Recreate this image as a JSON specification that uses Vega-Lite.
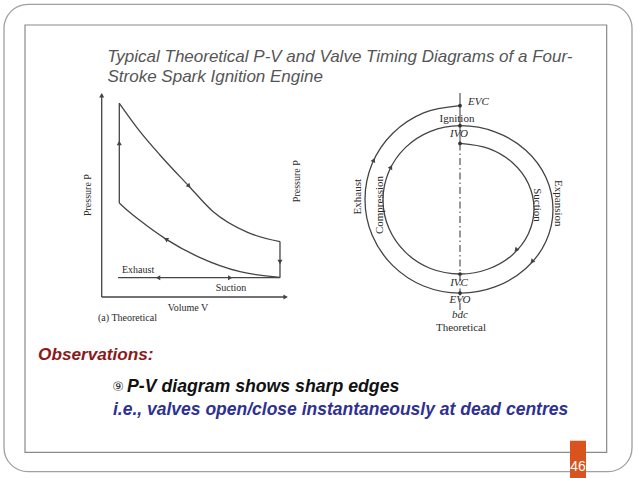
{
  "$schema": "https://vega.github.io/schema/vega-lite/v6.json",
  "width": 638,
  "height": 478,
  "autosize": {"type": "none"},
  "padding": 0,
  "background": "white",
  "config": {"view": {"stroke": null}},
  "resolve": {"scale": {"x": "independent", "y": "independent", "angle": "independent"}},
  "layer": [
    {
      "layer": [
        {
          "data": {"values": [{"frame": "outer"}]},
          "mark": {"type": "rect", "fill": "transparent", "stroke": "#a0a0a0", "strokeWidth": 1.3, "cornerRadius": 24},
          "encoding": {
            "x": {"datum": 0.63, "type": "quantitative", "scale": {"domain": [0, 100], "range": [0, 638], "zero": false, "nice": false}, "axis": null},
            "x2": {"datum": 99.06},
            "y": {"datum": 0.9, "type": "quantitative", "scale": {"domain": [0, 100], "range": [0, 478], "zero": false, "nice": false}, "axis": null},
            "y2": {"datum": 98.68}
          }
        },
        {
          "data": {"values": [{"frame": "inner"}]},
          "mark": {"type": "rect", "fill": "transparent", "stroke": "#8a8a8a", "strokeWidth": 1.2},
          "encoding": {
            "x": {"datum": 3.92, "type": "quantitative", "scale": {"domain": [0, 100], "range": [0, 638], "zero": false, "nice": false}, "axis": null},
            "x2": {"datum": 95.09},
            "y": {"datum": 5.23, "type": "quantitative", "scale": {"domain": [0, 100], "range": [0, 478], "zero": false, "nice": false}, "axis": null},
            "y2": {"datum": 94.62}
          }
        },
        {
          "data": {"values": [{"frame": "page tab"}]},
          "mark": {"type": "rect", "fill": "#d9531e", "stroke": null},
          "encoding": {
            "x": {"datum": 89.34, "type": "quantitative", "scale": {"domain": [0, 100], "range": [0, 638], "zero": false, "nice": false}, "axis": null},
            "x2": {"datum": 91.85},
            "y": {"datum": 92.2, "type": "quantitative", "scale": {"domain": [0, 100], "range": [0, 478], "zero": false, "nice": false}, "axis": null},
            "y2": {"datum": 100}
          }
        },
        {
          "data": {"values": [{"text": "46", "sx": 90.6, "sy": 97.6}]},
          "mark": {"type": "text", "font": "Liberation Sans", "fontSize": 14, "color": "white", "align": "center", "baseline": "middle"},
          "encoding": {
            "x": {"field": "sx", "type": "quantitative", "scale": {"domain": [0, 100], "range": [0, 638], "zero": false, "nice": false}, "axis": null},
            "y": {"field": "sy", "type": "quantitative", "scale": {"domain": [0, 100], "range": [0, 478], "zero": false, "nice": false}, "axis": null},
            "text": {"field": "text"}
          }
        },
        {
          "data": {"values": [
            {"text": "Typical Theoretical P-V and Valve Timing Diagrams of a Four-", "sx": 16.8, "sy": 12.97},
            {"text": "Stroke Spark Ignition Engine", "sx": 16.85, "sy": 17.09}
          ]},
          "mark": {"type": "text", "font": "Liberation Sans", "fontSize": 17, "fontStyle": "italic", "color": "#555555", "align": "left", "baseline": "alphabetic"},
          "encoding": {
            "x": {"field": "sx", "type": "quantitative", "scale": {"domain": [0, 100], "range": [0, 638], "zero": false, "nice": false}, "axis": null},
            "y": {"field": "sy", "type": "quantitative", "scale": {"domain": [0, 100], "range": [0, 478], "zero": false, "nice": false}, "axis": null},
            "text": {"field": "text"}
          }
        },
        {
          "data": {"values": [{"text": "Observations:", "sx": 5.96, "sy": 74.3}]},
          "mark": {"type": "text", "font": "Liberation Sans", "fontSize": 17.2, "fontStyle": "italic", "fontWeight": "bold", "color": "#8b1a1a", "align": "left", "baseline": "middle"},
          "encoding": {
            "x": {"field": "sx", "type": "quantitative", "scale": {"domain": [0, 100], "range": [0, 638], "zero": false, "nice": false}, "axis": null},
            "y": {"field": "sy", "type": "quantitative", "scale": {"domain": [0, 100], "range": [0, 478], "zero": false, "nice": false}, "axis": null},
            "text": {"field": "text"}
          }
        },
        {
          "data": {"values": [{"text": "⑨", "sx": 17.6, "sy": 80.96}]},
          "mark": {"type": "text", "font": "DejaVu Sans", "fontSize": 13, "color": "#333333", "align": "left", "baseline": "middle"},
          "encoding": {
            "x": {"field": "sx", "type": "quantitative", "scale": {"domain": [0, 100], "range": [0, 638], "zero": false, "nice": false}, "axis": null},
            "y": {"field": "sy", "type": "quantitative", "scale": {"domain": [0, 100], "range": [0, 478], "zero": false, "nice": false}, "axis": null},
            "text": {"field": "text"}
          }
        },
        {
          "data": {"values": [{"text": "P-V diagram shows sharp edges", "sx": 19.91, "sy": 80.96}]},
          "mark": {"type": "text", "font": "Liberation Sans", "fontSize": 17.7, "fontStyle": "italic", "fontWeight": "bold", "color": "#111111", "align": "left", "baseline": "middle"},
          "encoding": {
            "x": {"field": "sx", "type": "quantitative", "scale": {"domain": [0, 100], "range": [0, 638], "zero": false, "nice": false}, "axis": null},
            "y": {"field": "sy", "type": "quantitative", "scale": {"domain": [0, 100], "range": [0, 478], "zero": false, "nice": false}, "axis": null},
            "text": {"field": "text"}
          }
        },
        {
          "data": {"values": [{"text": "i.e., valves open/close instantaneously at dead centres", "sx": 17.71, "sy": 85.8}]},
          "mark": {"type": "text", "font": "Liberation Sans", "fontSize": 17.5, "fontStyle": "italic", "fontWeight": "bold", "color": "#2e3192", "align": "left", "baseline": "middle"},
          "encoding": {
            "x": {"field": "sx", "type": "quantitative", "scale": {"domain": [0, 100], "range": [0, 638], "zero": false, "nice": false}, "axis": null},
            "y": {"field": "sy", "type": "quantitative", "scale": {"domain": [0, 100], "range": [0, 478], "zero": false, "nice": false}, "axis": null},
            "text": {"field": "text"}
          }
        }
      ]
    },
    {
      "encoding": {
        "x": {"field": "V", "type": "quantitative", "scale": {"domain": [0, 10], "range": [101.7, 277.7], "zero": false, "nice": false}, "axis": null},
        "y": {"field": "P", "type": "quantitative", "scale": {"domain": [0, 10], "range": [297, 104], "zero": false, "nice": false}, "axis": null}
      },
      "layer": [
        {
          "data": {"values": [
            {"path": "P axis", "o": 0, "V": 0, "P": 0},
            {"path": "P axis", "o": 1, "V": 0, "P": 10.5},
            {"path": "V axis", "o": 0, "V": 0, "P": 0},
            {"path": "V axis", "o": 1, "V": 10.5, "P": 0},
            {"path": "heat addition", "o": 0, "V": 1.0, "P": 4.87},
            {"path": "heat addition", "o": 1, "V": 1.0, "P": 10.04},
            {"path": "blowdown", "o": 0, "V": 10.13, "P": 2.87},
            {"path": "blowdown", "o": 1, "V": 10.13, "P": 1.0},
            {"path": "exhaust/suction", "o": 0, "V": 0.93, "P": 1.0},
            {"path": "exhaust/suction", "o": 1, "V": 10.13, "P": 1.0}
          ]},
          "mark": {"type": "line", "color": "#444444", "strokeWidth": 1.3},
          "encoding": {"detail": {"field": "path"}, "order": {"field": "o"}}
        },
        {
          "data": {"values": [
            {"path": "expansion", "V": 1.0, "P": 10.04},
            {"path": "expansion", "V": 2.18, "P": 8.57},
            {"path": "expansion", "V": 3.31, "P": 7.36},
            {"path": "expansion", "V": 4.96, "P": 5.74},
            {"path": "expansion", "V": 6.32, "P": 4.43},
            {"path": "expansion", "V": 8.26, "P": 3.36},
            {"path": "expansion", "V": 10.13, "P": 2.87},
            {"path": "compression", "V": 1.0, "P": 4.87},
            {"path": "compression", "V": 1.32, "P": 4.6},
            {"path": "compression", "V": 2.18, "P": 3.96},
            {"path": "compression", "V": 3.65, "P": 3.0},
            {"path": "compression", "V": 5.59, "P": 2.04},
            {"path": "compression", "V": 7.86, "P": 1.31},
            {"path": "compression", "V": 10.13, "P": 1.02}
          ]},
          "mark": {"type": "line", "color": "#444444", "strokeWidth": 1.3, "interpolate": "monotone"},
          "encoding": {"detail": {"field": "path"}}
        },
        {
          "data": {"values": [
            {"V": 1.0, "P": 7.98, "dir": 0},
            {"V": 4.96, "P": 5.74, "dir": 138},
            {"V": 10.13, "P": 1.81, "dir": 180},
            {"V": 3.65, "P": 3.0, "dir": 300},
            {"V": 3.2, "P": 1.0, "dir": 270},
            {"V": 7.3, "P": 1.0, "dir": 90},
            {"V": 0, "P": 10.45, "dir": 0},
            {"V": 10.45, "P": 0, "dir": 90}
          ]},
          "mark": {"type": "point", "shape": "triangle-up", "filled": true, "color": "#444444", "size": 26, "opacity": 1},
          "encoding": {"angle": {"field": "dir", "type": "quantitative", "scale": {"domain": [0, 360], "range": [0, 360]}}}
        },
        {
          "data": {"values": [
            {"text": "Exhaust", "V": 1.15, "P": 1.4},
            {"text": "(a) Theoretical", "V": -0.21, "P": -1.09}
          ]},
          "mark": {"type": "text", "font": "Liberation Serif", "fontSize": 10, "color": "#2a2a2a", "align": "left", "baseline": "middle"},
          "encoding": {"text": {"field": "text"}}
        },
        {
          "data": {"values": [
            {"text": "Suction", "V": 7.35, "P": 0.47},
            {"text": "Volume V", "V": 4.9, "P": -0.57}
          ]},
          "mark": {"type": "text", "font": "Liberation Serif", "fontSize": 10, "color": "#2a2a2a", "align": "center", "baseline": "middle"},
          "encoding": {"text": {"field": "text"}}
        },
        {
          "data": {"values": [
            {"text": "Pressure P", "V": -0.78, "P": 5.28},
            {"text": "Pressure P", "V": 11.1, "P": 6.0}
          ]},
          "mark": {"type": "text", "font": "Liberation Serif", "fontSize": 10, "color": "#2a2a2a", "align": "center", "baseline": "middle", "angle": 270},
          "encoding": {"text": {"field": "text"}}
        }
      ]
    },
    {
      "encoding": {
        "x": {"field": "cx", "type": "quantitative", "scale": {"domain": [-100, 100], "range": [360, 560], "zero": false, "nice": false}, "axis": null},
        "y": {"field": "cy", "type": "quantitative", "scale": {"domain": [-100, 100], "range": [304, 104], "zero": false, "nice": false}, "axis": null}
      },
      "layer": [
        {
          "data": {"values": [
            {"stroke": "suction", "o": 1, "cx": 0, "cy": 60.6},
            {"stroke": "suction", "o": 2, "cx": 28.3, "cy": 55.6},
            {"stroke": "suction", "o": 3, "cx": 52.3, "cy": 41.5},
            {"stroke": "suction", "o": 4, "cx": 68.4, "cy": 20.3},
            {"stroke": "suction", "o": 5, "cx": 74, "cy": -4.7},
            {"stroke": "suction", "o": 6, "cx": 68.4, "cy": -29.7},
            {"stroke": "suction", "o": 7, "cx": 52.3, "cy": -50.9},
            {"stroke": "suction", "o": 8, "cx": 28.3, "cy": -65.0},
            {"stroke": "suction", "o": 9, "cx": 0, "cy": -70.0},
            {"stroke": "compression", "o": 10, "cx": -29.5, "cy": -64.5},
            {"stroke": "compression", "o": 11, "cx": -54.4, "cy": -48.4},
            {"stroke": "compression", "o": 12, "cx": -71.1, "cy": -24.3},
            {"stroke": "compression", "o": 13, "cx": -77, "cy": 4.1},
            {"stroke": "compression", "o": 14, "cx": -71.1, "cy": 32.5},
            {"stroke": "compression", "o": 15, "cx": -54.4, "cy": 56.6},
            {"stroke": "compression", "o": 16, "cx": -29.5, "cy": 72.7},
            {"stroke": "compression", "o": 17, "cx": 0, "cy": 78.3},
            {"stroke": "expansion", "o": 18, "cx": 35.6, "cy": 71.9},
            {"stroke": "expansion", "o": 19, "cx": 65.8, "cy": 53.8},
            {"stroke": "expansion", "o": 20, "cx": 85.9, "cy": 26.7},
            {"stroke": "expansion", "o": 21, "cx": 93, "cy": -5.4},
            {"stroke": "expansion", "o": 22, "cx": 85.9, "cy": -37.5},
            {"stroke": "expansion", "o": 23, "cx": 65.8, "cy": -64.6},
            {"stroke": "expansion", "o": 24, "cx": 35.6, "cy": -82.7},
            {"stroke": "expansion", "o": 25, "cx": 0, "cy": -89.1},
            {"stroke": "exhaust", "o": 26, "cx": -36.4, "cy": -82.0},
            {"stroke": "exhaust", "o": 27, "cx": -67.2, "cy": -61.6},
            {"stroke": "exhaust", "o": 28, "cx": -87.8, "cy": -31.3},
            {"stroke": "exhaust", "o": 29, "cx": -95, "cy": 4.6},
            {"stroke": "exhaust", "o": 30, "cx": -87.8, "cy": 40.5},
            {"stroke": "exhaust", "o": 31, "cx": -67.2, "cy": 70.8},
            {"stroke": "exhaust", "o": 32, "cx": -36.4, "cy": 91.2},
            {"stroke": "exhaust", "o": 33, "cx": 0, "cy": 98.3}
          ]},
          "mark": {"type": "line", "color": "#444444", "strokeWidth": 1.3, "interpolate": "catmull-rom"},
          "encoding": {"order": {"field": "o"}}
        },
        {
          "data": {"values": [
            {"part": "tdc", "o": 0, "cx": 0, "cy": 111},
            {"part": "tdc", "o": 1, "cx": 0, "cy": 60.6}
          ]},
          "mark": {"type": "line", "color": "#444444", "strokeWidth": 1.1},
          "encoding": {"order": {"field": "o"}}
        },
        {
          "data": {"values": [
            {"part": "centre line", "o": 0, "cx": 0, "cy": 60.6},
            {"part": "centre line", "o": 1, "cx": -0.01, "cy": -109}
          ]},
          "mark": {"type": "line", "color": "#444444", "strokeWidth": 1.1, "strokeDash": [7, 3, 1.5, 3]},
          "encoding": {"order": {"field": "o"}}
        },
        {
          "data": {"values": [
            {"event": "EVC", "cx": 0, "cy": 98.3},
            {"event": "Ignition", "cx": 0, "cy": 78.3},
            {"event": "IVO", "cx": 0, "cy": 60.6},
            {"event": "IVC", "cx": 0, "cy": -70.0},
            {"event": "EVO", "cx": 0, "cy": -89.1}
          ]},
          "mark": {"type": "circle", "color": "#333333", "size": 14, "opacity": 1}
        },
        {
          "data": {"values": [
            {"cx": -86.2, "cy": 44, "dir": 25},
            {"cx": -69, "cy": 37, "dir": 27},
            {"cx": 56, "cy": -46, "dir": 223},
            {"cx": 72, "cy": -57.7, "dir": 222}
          ]},
          "mark": {"type": "point", "shape": "triangle-up", "filled": true, "color": "#444444", "size": 26, "opacity": 1},
          "encoding": {"angle": {"field": "dir", "type": "quantitative", "scale": {"domain": [0, 360], "range": [0, 360]}}}
        },
        {
          "data": {"values": [
            {"text": "EVC", "cx": 8, "cy": 102}
          ]},
          "mark": {"type": "text", "font": "Liberation Serif", "fontSize": 11, "fontStyle": "italic", "color": "#2a2a2a", "align": "left", "baseline": "middle"},
          "encoding": {"text": {"field": "text"}}
        },
        {
          "data": {"values": [
            {"text": "IVO", "cx": -1, "cy": 70},
            {"text": "IVC", "cx": -1, "cy": -79},
            {"text": "EVO", "cx": 0, "cy": -96},
            {"text": "bdc", "cx": 0, "cy": -111}
          ]},
          "mark": {"type": "text", "font": "Liberation Serif", "fontSize": 11, "fontStyle": "italic", "color": "#2a2a2a", "align": "center", "baseline": "middle"},
          "encoding": {"text": {"field": "text"}}
        },
        {
          "data": {"values": [
            {"text": "Ignition", "cx": -3, "cy": 85},
            {"text": "Theoretical", "cx": 1, "cy": -124}
          ]},
          "mark": {"type": "text", "font": "Liberation Serif", "fontSize": 11, "color": "#2a2a2a", "align": "center", "baseline": "middle"},
          "encoding": {"text": {"field": "text"}}
        },
        {
          "data": {"values": [
            {"text": "Exhaust", "cx": -102, "cy": 7.3},
            {"text": "Compression", "cx": -80, "cy": -1}
          ]},
          "mark": {"type": "text", "font": "Liberation Serif", "fontSize": 11, "color": "#2a2a2a", "align": "center", "baseline": "middle", "angle": 270},
          "encoding": {"text": {"field": "text"}}
        },
        {
          "data": {"values": [
            {"text": "Suction", "cx": 77, "cy": -1},
            {"text": "Expansion", "cx": 98, "cy": 0.7}
          ]},
          "mark": {"type": "text", "font": "Liberation Serif", "fontSize": 11, "color": "#2a2a2a", "align": "center", "baseline": "middle", "angle": 90},
          "encoding": {"text": {"field": "text"}}
        }
      ]
    }
  ]
}
